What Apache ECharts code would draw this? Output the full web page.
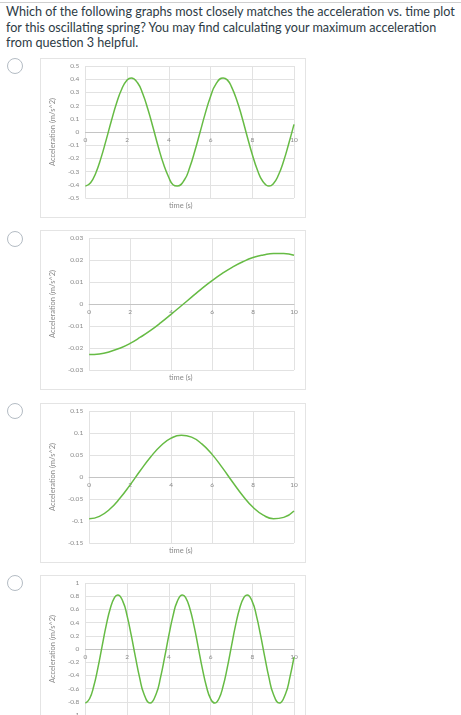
<!DOCTYPE html>
<html>
<head>
<meta charset="utf-8">
<script src="https://cdn.jsdelivr.net/npm/echarts@6/dist/echarts.min.js"></script>
<style>
  html, body { margin: 0; padding: 0; width: 461px; height: 715px; overflow: hidden; background: #fff; }
  .topline { position: absolute; left: 0; top: 2px; width: 461px; height: 1px; background: #cfcfcf; }
  .question { position: absolute; left: 6px; top: 4px; width: 452px; font-family: Lato, sans-serif; font-size: 12.6px; line-height: 15.5px; color: #2d3b45; }
  .radio { position: absolute; left: 7px; width: 14px; height: 14px; border: 1.5px solid #b4bcc4; border-radius: 50%; background: #fff; }
  .card { position: absolute; left: 40px; width: 264px; height: 158px; border: 1px solid #e4e4e4; }
</style>
</head>
<body>
<div class="topline"></div>
<div class="question">Which of the following graphs most closely matches the acceleration vs. time plot for this oscillating spring? You may find calculating your maximum acceleration from question 3 helpful.</div>

<div class="radio" style="top:58px"></div>
<div class="radio" style="top:231px"></div>
<div class="radio" style="top:403px"></div>
<div class="radio" style="top:575px"></div>

<div id="c1" class="card" style="top:58px"></div>
<div id="c2" class="card" style="top:230px"></div>
<div id="c3" class="card" style="top:403px"></div>
<div id="c4" class="card" style="top:575px"></div>

<script>
// time samples (s)
var times1 = [0, 0.25, 0.5, 0.75, 1, 1.25, 1.5, 1.75, 2, 2.2, 2.5, 2.75, 3, 3.25, 3.5, 3.75, 4, 4.2, 4.4, 4.75,
  5, 5.25, 5.5, 5.75, 6, 6.25, 6.6, 6.8, 7, 7.25, 7.5, 7.75, 8, 8.25, 8.5, 8.8, 9, 9.25, 9.5, 9.75, 10]
var times2 = [0, 0.5, 1, 1.5, 2, 2.5, 3, 3.5, 4, 4.5, 5, 5.5, 6, 6.5, 7, 7.5, 8, 8.5, 9, 9.5, 10]
var times4 = [0, 0.2, 0.4, 0.6, 0.8, 1, 1.2, 1.4, 1.55, 1.8, 2, 2.2, 2.4, 2.6, 2.8, 3.1, 3.4, 3.6, 3.8,
  4, 4.2, 4.4, 4.65, 4.8, 5, 5.2, 5.4, 5.6, 5.8, 6, 6.2, 6.4, 6.6, 6.8, 7, 7.2, 7.4, 7.6, 7.75,
  8, 8.2, 8.4, 8.6, 8.8, 9, 9.3, 9.6, 9.8, 10]

// acceleration values (m/s^2)
var acc1 = [-0.41, -0.384, -0.31, -0.196, -0.058, 0.087, 0.222, 0.328, 0.394, 0.41, 0.373, 0.29, 0.17, 0.03,
  -0.116, -0.245, -0.345, -0.4, -0.41, -0.362, -0.269, -0.142, 0, 0.143, 0.269, 0.361, 0.41, 0.395,
  0.344, 0.245, 0.116, -0.03, -0.17, -0.29, -0.373, -0.41, -0.394, -0.328, -0.222, -0.087, 0.058]
var acc2 = [-0.023, -0.0227, -0.0217, -0.0201, -0.0179, -0.0151, -0.012, -0.0085, -0.0047, -0.0008, 0.0031,
  0.007, 0.0106, 0.0139, 0.0168, 0.0192, 0.0211, 0.0223, 0.023, 0.0229, 0.0222]
var acc3 = [-0.095, -0.0894, -0.0733, -0.0485, -0.0179, 0.0147, 0.0455, 0.0711, 0.0883, 0.0949, 0.0905,
  0.0752, 0.0514, 0.0212, -0.0114, -0.0427, -0.0689, -0.0867, -0.0948, -0.0917, -0.0772]
var acc4 = [-0.82, -0.754, -0.565, -0.286, 0.041, 0.361, 0.622, 0.782, 0.82, 0.718, 0.502, 0.205, -0.123,
  -0.433, -0.674, -0.82, -0.673, -0.434, -0.124, 0.205, 0.502, 0.717, 0.82, 0.782, 0.622, 0.361,
  0.041, -0.285, -0.565, -0.753, -0.82, -0.754, -0.565, -0.286, 0.041, 0.361, 0.622, 0.782, 0.82,
  0.718, 0.502, 0.205, -0.123, -0.433, -0.674, -0.82, -0.673, -0.434, -0.124]

// axis ticks
var xTicks = [0, 2, 4, 6, 8, 10]
var yTicks1 = [-0.5, -0.4, -0.3, -0.2, -0.1, 0, 0.1, 0.2, 0.3, 0.4, 0.5]
var yTicks2 = [-0.03, -0.02, -0.01, 0, 0.01, 0.02, 0.03]
var yTicks3 = [-0.15, -0.1, -0.05, 0, 0.05, 0.1, 0.15]
var yTicks4 = [-1, -0.8, -0.6, -0.4, -0.2, 0, 0.2, 0.4, 0.6, 0.8, 1]

var labelFont = 'Lato, sans-serif'
var plotHeight = 132

function buildChart (id, times, values, yTicks, gridLeft) {
  var step = Math.round((yTicks[1] - yTicks[0]) * 1000) / 1000
  var chart = echarts.init(document.getElementById(id), null, { renderer: 'canvas' })
  chart.setOption({
    animation: false,
    grid: { left: gridLeft, right: 11, top: 7, bottom: 19 },
    xAxis: {
      type: 'value',
      min: xTicks[0],
      max: xTicks[xTicks.length - 1],
      interval: xTicks[1] - xTicks[0],
      // the axis sits on the zero line (symmetric y ranges -> middle of the plot)
      offset: -plotHeight / 2,
      axisLine: { onZero: false, lineStyle: { color: '#c4c4c4', width: 1 } },
      axisTick: { show: false },
      axisLabel: { color: '#8a8a8a', fontSize: 6.5, fontFamily: labelFont, margin: 4 },
      splitLine: { show: true, lineStyle: { color: '#e2e2e2', width: 1 } }
    },
    yAxis: {
      type: 'value',
      min: yTicks[0],
      max: yTicks[yTicks.length - 1],
      interval: step,
      name: 'Acceleration (m/s^2)',
      nameLocation: 'middle',
      nameRotate: 90,
      nameGap: 20,
      nameTextStyle: { color: '#8a8a8a', fontSize: 7.5, fontFamily: labelFont },
      axisLine: { show: false },
      axisTick: { show: false },
      axisLabel: {
        color: '#8a8a8a', fontSize: 6.5, fontFamily: labelFont, margin: 6,
        formatter: function (v) { return String(Math.round(v * 1000) / 1000) }
      },
      splitLine: { show: true, lineStyle: { color: '#e2e2e2', width: 1 } }
    },
    graphic: [{
      type: 'text',
      left: 128,
      bottom: 7,
      style: { text: 'time (s)', fill: '#8a8a8a', font: '7.5px ' + labelFont }
    }],
    series: [{
      type: 'line',
      smooth: true,
      symbol: 'none',
      lineStyle: { color: '#66bb44', width: 1.5 },
      data: times.map(function (t, i) { return [t, values[i]] })
    }]
  })
  return chart
}

buildChart('c1', times1, acc1, yTicks1, 35)
buildChart('c2', times2, acc2, yTicks2, 38)
buildChart('c3', times2, acc3, yTicks3, 38)
buildChart('c4', times4, acc4, yTicks4, 35)
</script>
</body>
</html>
